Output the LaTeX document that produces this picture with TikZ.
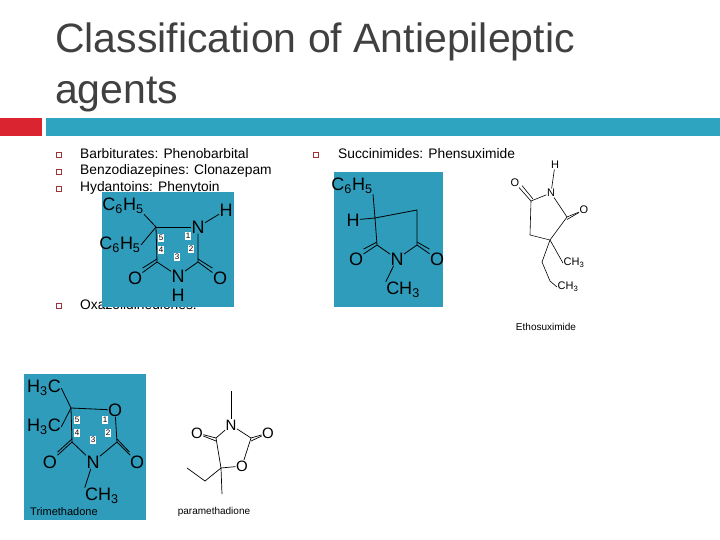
\documentclass[tikz,border=0pt]{standalone}
\usepackage{fontspec}
\setmainfont{Liberation Sans}
\definecolor{tealbar}{HTML}{2FA4C0}
\definecolor{redbar}{HTML}{DA2530}
\definecolor{boxteal}{HTML}{2E9CBA}
\definecolor{bul}{HTML}{A0303A}
\begin{document}
\begin{tikzpicture}[x=1pt,y=-1pt,
  bull/.style={draw=bul,line width=0.8pt,minimum size=4.5pt,inner sep=0pt},
  txt/.style={anchor=west,font=\fontsize{13.8}{14}\selectfont,inner sep=0pt},
  at1/.style={font=\fontsize{18}{18}\selectfont,inner sep=0.3pt},
  at2/.style={font=\fontsize{11}{11}\selectfont,inner sep=0.5pt},
  num/.style={fill=white,font=\fontsize{8}{8}\selectfont,inner sep=1pt},
  bd/.style={line width=0.8pt},
  capt/.style={font=\fontsize{10}{10}\selectfont,inner sep=0pt}]
\useasboundingbox (0,0) rectangle (720,540);
\node[anchor=base west,font=\fontsize{41}{41}\selectfont,text=black!75,inner sep=0pt] (t1) at (55,53) {Classification of Antiepileptic};
\node[anchor=base west,font=\fontsize{41}{41}\selectfont,text=black!75,inner sep=0pt] (t2) at (55,104) {agents};
\fill[redbar] (0,118) rectangle (42,136);
\fill[tealbar] (46,118) rectangle (720,136);
\node[bull] (b1) at (59,155) {}; \node[txt] (l1) at (80,154) {Barbiturates: Phenobarbital};
\node[bull] (b2) at (59,172) {}; \node[txt] (l2) at (80,171) {Benzodiazepines: Clonazepam};
\node[bull] (b3) at (59,189) {}; \node[txt] (l3) at (80,188) {Hydantoins: Phenytoin};
\node[bull] (b4) at (59,306) {}; \node[txt] (l4) at (80,305) {Oxazolidinediones:};
\node[bull] (b5) at (316,155) {}; \node[txt] (l5) at (338,154) {Succinimides: Phensuximide};
% Phenytoin
\fill[boxteal] (102,192) rectangle (234,307);
\node[at1] (pa) at (123,206) {C\textsubscript{6}H\textsubscript{5}};
\node[at1] (pb) at (120,245) {C\textsubscript{6}H\textsubscript{5}};
\coordinate (c5) at (156,227); \coordinate (c4) at (157,262); \coordinate (c2) at (198,262);
\node[at1] (n1) at (198,227) {N}; \node[at1] (h1) at (226,210) {H};
\node[at1] (n3) at (178,276) {N}; \node[at1] (h3) at (178,295) {H};
\node[at1] (o4) at (135,278) {O}; \node[at1] (o2) at (220,278) {O};
\draw[bd] (pa.south east) -- (c5); \draw[bd] (pb.east) -- (c5);
\draw[bd] (c5) -- (n1); \draw[bd] (n1) -- (h1); \draw[bd] (c5) -- (c4) -- (n3) -- (c2) -- (n1);
\draw[bd] (c4) -- (o4); \draw[bd] ([yshift=3pt]c4) -- ([yshift=3pt]o4.north east);
\draw[bd] (c2) -- (o2); \draw[bd] ([yshift=3pt]c2) -- ([yshift=3pt]o2.north west);
\node[num] (k5) at (161,238) {5}; \node[num] (k4) at (161,250) {4};
\node[num] (k1) at (188,236) {1}; \node[num] (k2) at (191,249) {2};
\node[num] (k3) at (177,257) {3};
% Phensuximide
\fill[boxteal] (334,172) rectangle (443,307);
\node[at1] (sa) at (352,186) {C\textsubscript{6}H\textsubscript{5}};
\node[at1] (sh) at (353,220) {H};
\coordinate (s3) at (375,218); \coordinate (s4) at (417,210);
\coordinate (s2) at (377,245); \coordinate (s5) at (417,245);
\node[at1] (sn) at (397,259) {N};
\node[at1] (so1) at (356,259) {O}; \node[at1] (so2) at (437,259) {O};
\node[at1] (sm) at (403,290) {CH\textsubscript{3}};
\draw[bd] (sa.south east) -- (s3); \draw[bd] (sh) -- (s3);
\draw[bd] (s3) -- (s4) -- (s5) -- (sn) -- (s2) -- (s3);
\draw[bd] (s2) -- (so1); \draw[bd] ([yshift=3pt]s2) -- ([yshift=3pt]so1.north east);
\draw[bd] (s5) -- (so2); \draw[bd] ([yshift=3pt]s5) -- ([yshift=3pt]so2.north west);
\draw[bd] (sn) -- (sm.north west);
% Ethosuximide
\node[at2] (eh) at (555,165) {H}; \node[at2] (en) at (551,193) {N};
\node[at2] (eo1) at (515,183) {O}; \node[at2] (eo2) at (584,210) {O};
\coordinate (e2) at (531,201); \coordinate (e5) at (567,217);
\coordinate (e3) at (530,235); \coordinate (e4) at (550,240);
\coordinate (ee) at (542,262); \coordinate (ee2) at (550,281);
\node[at2] (em1) at (574,263) {CH\textsubscript{3}}; \node[at2] (em2) at (568,287) {CH\textsubscript{3}};
\draw[line width=0.6pt] (eh) -- (en); \draw[line width=0.6pt] (en) -- (e2) -- (e3) -- (e4) -- (e5) -- (en);
\draw[line width=0.6pt] (e2) -- (eo1); \draw[line width=0.6pt] ([xshift=2pt,yshift=2pt]e2) -- ([xshift=2pt,yshift=2pt]eo1.south east);
\draw[line width=0.6pt] (e5) -- (eo2); \draw[line width=0.6pt] ([yshift=-2.5pt]e5) -- ([yshift=-2.5pt]eo2.west);
\draw[line width=0.6pt] (e4) -- (em1.west); \draw[line width=0.6pt] (e4) -- (ee) -- (ee2) -- (em2.west);
\node[capt] (ecap) at (546,327) {Ethosuximide};
% Trimethadone
\fill[boxteal] (24,374) rectangle (146,520);
\node[at1] (ta) at (44,388) {H\textsubscript{3}C}; \node[at1] (tb) at (44,427) {H\textsubscript{3}C};
\coordinate (t5) at (71,408); \coordinate (t4) at (72,442); \coordinate (t2) at (117,442);
\node[at1] (to1) at (115,410) {O}; \node[at1] (tn) at (93,462) {N};
\node[at1] (tol) at (50,462) {O}; \node[at1] (tor) at (137,462) {O};
\node[at1] (tm) at (102,496) {CH\textsubscript{3}};
\draw[bd] (ta.east) -- (t5); \draw[bd] (tb.east) -- (t5);
\draw[bd] (t5) -- (to1) -- (t2) -- (tn) -- (t4) -- (t5);
\draw[bd] (t4) -- (tol); \draw[bd] ([yshift=3pt]t4) -- ([yshift=3pt]tol.north east);
\draw[bd] (t2) -- (tor); \draw[bd] ([yshift=3pt]t2) -- ([yshift=3pt]tor.north west);
\draw[bd] (tn) -- (tm.north west);
\node[num] (u5) at (77,420) {5}; \node[num] (u4) at (77,433) {4};
\node[num] (u1) at (105,420) {1}; \node[num] (u2) at (108,433) {2};
\node[num] (u3) at (93,440) {3};
\node[capt,anchor=west,font=\fontsize{11}{11}\selectfont] (tcap) at (30,512) {Trimethadone};
% Paramethadione
\node[at1,font=\fontsize{15}{15}\selectfont] (pn) at (231,425) {N};
\node[at1,font=\fontsize{15}{15}\selectfont] (pol) at (197,433) {O};
\node[at1,font=\fontsize{15}{15}\selectfont] (por) at (268,433) {O};
\node[at1,font=\fontsize{15}{15}\selectfont] (po) at (242,466) {O};
\coordinate (p4) at (216,438); \coordinate (p2) at (251,438); \coordinate (p5) at (221,468);
\coordinate (pm) at (231,391); \coordinate (pe1) at (205,481); \coordinate (pe2) at (187,468); \coordinate (pm2) at (222,494);
\draw[line width=0.7pt] (pm) -- (pn); \draw[line width=0.7pt] (pn) -- (p2) -- (po) -- (p5) -- (p4) -- (pn);
\draw[line width=0.7pt] (p4) -- (pol); \draw[line width=0.7pt] ([yshift=-3pt]p4) -- ([yshift=-3pt]pol.east);
\draw[line width=0.7pt] (p2) -- (por); \draw[line width=0.7pt] ([yshift=-3pt]p2) -- ([yshift=-3pt]por.west);
\draw[line width=0.7pt] (p5) -- (pe1) -- (pe2); \draw[line width=0.7pt] (p5) -- (pm2);
\node[capt] (pcap) at (214,512) {paramethadione};
\end{tikzpicture}
\end{document}
